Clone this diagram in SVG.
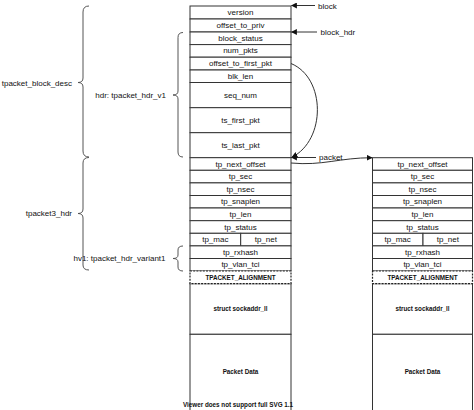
<svg xmlns="http://www.w3.org/2000/svg" width="474" height="410" viewBox="0 0 474 410">
<style>
.c{fill:#fff;stroke:#333;stroke-width:1}
.d{fill:#fff;stroke:#222;stroke-width:1.2;stroke-dasharray:2,1.2}
.t{font-family:"Liberation Sans",Arial,sans-serif;font-size:8px;fill:#111;text-anchor:middle;dominant-baseline:central}
.b{font-family:"Liberation Sans",Arial,sans-serif;font-size:6.3px;font-weight:bold;fill:#111;text-anchor:middle;dominant-baseline:central}
.l{font-family:"Liberation Sans",Arial,sans-serif;font-size:8px;fill:#111;text-anchor:end;dominant-baseline:central}
.s{font-family:"Liberation Sans",Arial,sans-serif;font-size:8px;fill:#111;text-anchor:start;dominant-baseline:central}
.br{fill:none;stroke:#555;stroke-width:1}
.a{fill:none;stroke:#333;stroke-width:1}
</style>
<defs>
<marker id="ah" viewBox="0 0 10 10" refX="9" refY="5" markerWidth="6" markerHeight="6" markerUnits="userSpaceOnUse" orient="auto">
<path d="M0,0 L10,5 L0,10 z" fill="#111"/>
</marker>
</defs>

<!-- column 1 -->
<g id="version"><rect class="c" x="190" y="6" width="101" height="13"/><text class="t" x="240.5" y="12.5">version</text></g>
<g id="offset_to_priv"><rect class="c" x="190" y="19" width="101" height="13"/><text class="t" x="240.5" y="25.5">offset_to_priv</text></g>
<g id="block_status"><rect class="c" x="190" y="32" width="101" height="12.6"/><text class="t" x="240.5" y="38.3">block_status</text></g>
<g id="num_pkts"><rect class="c" x="190" y="44.6" width="101" height="12.6"/><text class="t" x="240.5" y="50.9">num_pkts</text></g>
<g id="offset_to_first_pkt"><rect class="c" x="190" y="57.2" width="101" height="12.8"/><text class="t" x="240.5" y="63.6">offset_to_first_pkt</text></g>
<g id="blk_len"><rect class="c" x="190" y="70" width="101" height="12.5"/><text class="t" x="240.5" y="76.2">blk_len</text></g>
<g id="seq_num"><rect class="c" x="190" y="82.5" width="101" height="25.2"/><text class="t" x="240.5" y="95">seq_num</text></g>
<g id="ts_first_pkt"><rect class="c" x="190" y="107.7" width="101" height="25"/><text class="t" x="240.5" y="120.2">ts_first_pkt</text></g>
<g id="ts_last_pkt"><rect class="c" x="190" y="132.7" width="101" height="25"/><text class="t" x="240.5" y="145.2">ts_last_pkt</text></g>
<g id="tp_next_offset"><rect class="c" x="190" y="157.7" width="101" height="12.6"/><text class="t" x="240.5" y="164">tp_next_offset</text></g>
<g id="tp_sec"><rect class="c" x="190" y="170.3" width="101" height="12.6"/><text class="t" x="240.5" y="176.6">tp_sec</text></g>
<g id="tp_nsec"><rect class="c" x="190" y="182.9" width="101" height="12.6"/><text class="t" x="240.5" y="189.2">tp_nsec</text></g>
<g id="tp_snaplen"><rect class="c" x="190" y="195.5" width="101" height="12.5"/><text class="t" x="240.5" y="201.8">tp_snaplen</text></g>
<g id="tp_len"><rect class="c" x="190" y="208" width="101" height="12.7"/><text class="t" x="240.5" y="214.3">tp_len</text></g>
<g id="tp_status"><rect class="c" x="190" y="220.7" width="101" height="12.6"/><text class="t" x="240.5" y="227">tp_status</text></g>
<g id="tp_mac"><rect class="c" x="190" y="233.3" width="50.7" height="12.6"/><text class="t" x="215.3" y="239.6">tp_mac</text></g>
<g id="tp_net"><rect class="c" x="240.7" y="233.3" width="50.3" height="12.6"/><text class="t" x="265.8" y="239.6">tp_net</text></g>
<g id="tp_rxhash"><rect class="c" x="190" y="245.9" width="101" height="12.6"/><text class="t" x="240.5" y="252.2">tp_rxhash</text></g>
<g id="tp_vlan_tci"><rect class="c" x="190" y="258.5" width="101" height="12.5"/><text class="t" x="240.5" y="264.8">tp_vlan_tci</text></g>
<g id="sockaddr"><rect class="c" x="190" y="283.7" width="101" height="50.6"/><text class="b" x="240.5" y="308.5">struct sockaddr_ll</text></g>
<g id="packet_data"><rect class="c" x="190" y="334.3" width="101" height="80"/><text class="b" x="240.5" y="371">Packet Data</text></g>
<g id="alignment"><rect class="d" x="190" y="271" width="101" height="12.7"/><text class="b" x="240.5" y="277.3">TPACKET_ALIGNMENT</text></g>

<!-- column 2 -->
<g id="tp_next_offset2"><rect class="c" x="372.5" y="157.7" width="100" height="12.6"/><text class="t" x="422.5" y="164">tp_next_offset</text></g>
<g id="tp_sec2"><rect class="c" x="372.5" y="170.3" width="100" height="12.6"/><text class="t" x="422.5" y="176.6">tp_sec</text></g>
<g id="tp_nsec2"><rect class="c" x="372.5" y="182.9" width="100" height="12.6"/><text class="t" x="422.5" y="189.2">tp_nsec</text></g>
<g id="tp_snaplen2"><rect class="c" x="372.5" y="195.5" width="100" height="12.5"/><text class="t" x="422.5" y="201.8">tp_snaplen</text></g>
<g id="tp_len2"><rect class="c" x="372.5" y="208" width="100" height="12.7"/><text class="t" x="422.5" y="214.3">tp_len</text></g>
<g id="tp_status2"><rect class="c" x="372.5" y="220.7" width="100" height="12.6"/><text class="t" x="422.5" y="227">tp_status</text></g>
<g id="tp_mac2"><rect class="c" x="372.5" y="233.3" width="50.5" height="12.6"/><text class="t" x="397.7" y="239.6">tp_mac</text></g>
<g id="tp_net2"><rect class="c" x="423" y="233.3" width="49.5" height="12.6"/><text class="t" x="447.8" y="239.6">tp_net</text></g>
<g id="tp_rxhash2"><rect class="c" x="372.5" y="245.9" width="100" height="12.6"/><text class="t" x="422.5" y="252.2">tp_rxhash</text></g>
<g id="tp_vlan_tci2"><rect class="c" x="372.5" y="258.5" width="100" height="12.5"/><text class="t" x="422.5" y="264.8">tp_vlan_tci</text></g>
<g id="sockaddr2"><rect class="c" x="372.5" y="283.7" width="100" height="50.6"/><text class="b" x="422.5" y="308.5">struct sockaddr_ll</text></g>
<g id="packet_data2"><rect class="c" x="372.5" y="334.3" width="100" height="80"/><text class="b" x="422.5" y="371">Packet Data</text></g>
<g id="alignment2"><rect class="d" x="372.5" y="271" width="100" height="12.7"/><text class="b" x="422.5" y="277.3">TPACKET_ALIGNMENT</text></g>

<!-- braces and labels -->
<g id="block_desc">
<path class="br" d="M89,6 Q83,6 83,12 L83,78 Q83,82.5 78,82.5 Q83,82.5 83,87 L83,151 Q83,157 89,157"/>
<text class="l" x="72" y="83">tpacket_block_desc</text>
</g>
<g id="hdr_v1">
<path class="br" d="M183,32.5 Q178,32.5 178,37.5 L178,91 Q178,95 173,95 Q178,95 178,99 L178,152 Q178,157 183,157"/>
<text class="l" x="166" y="95">hdr: tpacket_hdr_v1</text>
</g>
<g id="tpacket3_hdr">
<path class="br" d="M89,157.5 Q83,157.5 83,163 L83,209 Q83,213.5 78,213.5 Q83,213.5 83,218 L83,265 Q83,270 89,270"/>
<text class="l" x="72" y="213.5">tpacket3_hdr</text>
</g>
<g id="hv1">
<path class="br" d="M183,246 Q178,246 178,250 L178,255 Q178,258.5 173,258.5 Q178,258.5 178,262 L178,267 Q178,271 183,271"/>
<text class="l" x="165.5" y="258.5">hv1: tpacket_hdr_variant1</text>
</g>

<!-- connectors -->
<g id="connectors">
<line class="a" x1="315" y1="5.5" x2="291.5" y2="5.5" marker-end="url(#ah)"/>
<line class="a" x1="317" y1="32" x2="291.5" y2="32" marker-end="url(#ah)"/>
<line class="a" x1="316" y1="157.5" x2="291.5" y2="157.5" marker-end="url(#ah)"/>
<path class="a" d="M291,63.5 C326,78 326,140 292,157.2" marker-end="url(#ah)"/>
<path class="a" d="M291,163 C322,166 340,157.7 372,157.7" marker-end="url(#ah)"/>
</g>
<text class="s" x="318" y="6">block</text>
<text class="s" x="320.5" y="32.3">block_hdr</text>
<text class="s" x="319" y="157">packet</text>
<text class="b" x="238" y="404">Viewer does not support full SVG 1.1</text>
</svg>
